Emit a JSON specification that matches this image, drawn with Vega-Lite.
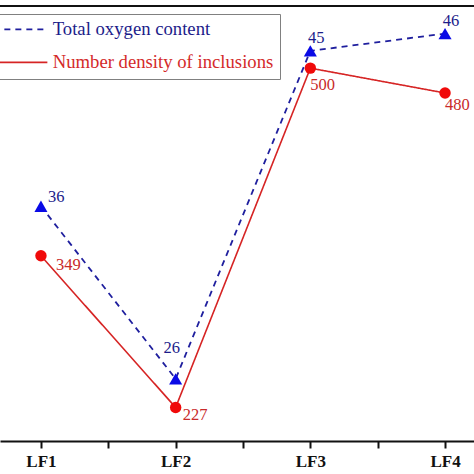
{
  "$schema": "https://vega.github.io/schema/vega-lite/v6.json",
  "width": 474,
  "height": 435,
  "autosize": "none",
  "padding": {"left": 0, "top": 6, "right": 0, "bottom": 33},
  "background": "white",
  "config": {
    "view": {"stroke": null},
    "font": "'Liberation Serif', 'Times New Roman', Times, serif"
  },
  "datasets": {
    "series": [
      {"stage": "LF1", "idx": 1, "series": "Total oxygen content", "value": 36},
      {"stage": "LF2", "idx": 2, "series": "Total oxygen content", "value": 26},
      {"stage": "LF3", "idx": 3, "series": "Total oxygen content", "value": 45},
      {"stage": "LF4", "idx": 4, "series": "Total oxygen content", "value": 46},
      {"stage": "LF1", "idx": 1, "series": "Number density of inclusions", "value": 349},
      {"stage": "LF2", "idx": 2, "series": "Number density of inclusions", "value": 227},
      {"stage": "LF3", "idx": 3, "series": "Number density of inclusions", "value": 500},
      {"stage": "LF4", "idx": 4, "series": "Number density of inclusions", "value": 480}
    ]
  },
  "layer": [
    {
      "data": {"values": [{"top": 550}]},
      "mark": {"type": "rule", "stroke": "#111111", "strokeWidth": 2},
      "encoding": {
        "y": {"field": "top", "type": "quantitative", "scale": {"domain": [200, 550], "nice": false, "zero": false}, "axis": null}
      }
    },
    {
      "data": {"name": "series"},
      "transform": [{"filter": "datum.series == 'Total oxygen content'"}],
      "mark": {"type": "line", "strokeWidth": 1.8},
      "encoding": {
        "x": {"field": "idx", "type": "quantitative", "scale": {"domain": [0.696, 4.215], "nice": false, "zero": false},
          "axis": {"values": [1, 1.5, 2, 2.5, 3, 3.5, 4], "labelExpr": "datum.value % 1 == 0 ? 'LF' + datum.value : ''", "title": null, "grid": false, "domainColor": "#111111", "domainWidth": 2, "tickColor": "#111111", "tickWidth": 2, "tickSize": 7, "labelFont": "'Liberation Serif', 'Times New Roman', Times, serif", "labelFontWeight": "bold", "labelFontSize": 17, "labelColor": "#111111", "labelPadding": 5}},
        "y": {"field": "value", "type": "quantitative", "scale": {"domain": [22.4, 47.6], "nice": false, "zero": false}, "axis": null},
        "color": {"field": "series", "type": "nominal", "scale": {"domain": ["Total oxygen content", "Number density of inclusions"], "range": ["#1f1f9e", "#d62424"]},
          "legend": {"title": null, "orient": "none", "legendX": -9, "legendY": 8, "direction": "vertical", "symbolType": "M-5,0H5.86", "symbolSize": 196, "symbolStrokeWidth": 1.8, "labelFont": "'Liberation Serif', 'Times New Roman', Times, serif", "labelFontSize": 18.7, "labelOffset": 37, "labelLimit": 400, "rowPadding": 13, "padding": 6, "strokeColor": "#808080", "fillColor": "white",
            "encode": {"labels": {"update": {"fill": {"signal": "datum.label == 'Total oxygen content' ? '#1c1c8a' : '#d42a2a'"}}}}}},
        "strokeDash": {"field": "series", "type": "nominal", "scale": {"domain": ["Total oxygen content", "Number density of inclusions"], "range": [[6, 5], [1, 0]]}, "legend": {"title": null}}
      }
    },
    {
      "data": {"name": "series"},
      "transform": [{"filter": "datum.series == 'Total oxygen content'"}],
      "mark": {"type": "point", "shape": "triangle-up", "filled": true, "color": "#0a0ae6", "size": 170, "opacity": 1},
      "encoding": {
        "x": {"field": "idx", "type": "quantitative", "scale": {"domain": [0.696, 4.215], "nice": false, "zero": false}},
        "y": {"field": "value", "type": "quantitative", "scale": {"domain": [22.4, 47.6], "nice": false, "zero": false}, "axis": null}
      }
    },
    {
      "data": {"name": "series"},
      "transform": [{"filter": "datum.series == 'Total oxygen content' && datum.idx == 1"}],
      "mark": {"type": "text", "align": "left", "baseline": "middle", "dx": 7, "dy": -9, "fontSize": 16.5, "color": "#1c1c8a"},
      "encoding": {
        "x": {"field": "idx", "type": "quantitative", "scale": {"domain": [0.696, 4.215], "nice": false, "zero": false}},
        "y": {"field": "value", "type": "quantitative", "scale": {"domain": [22.4, 47.6], "nice": false, "zero": false}, "axis": null},
        "text": {"field": "value", "type": "quantitative"}
      }
    },
    {
      "data": {"name": "series"},
      "transform": [{"filter": "datum.series == 'Total oxygen content' && datum.idx == 2"}],
      "mark": {"type": "text", "align": "center", "baseline": "middle", "dx": -4, "dy": -31, "fontSize": 16.5, "color": "#1c1c8a"},
      "encoding": {
        "x": {"field": "idx", "type": "quantitative", "scale": {"domain": [0.696, 4.215], "nice": false, "zero": false}},
        "y": {"field": "value", "type": "quantitative", "scale": {"domain": [22.4, 47.6], "nice": false, "zero": false}, "axis": null},
        "text": {"field": "value", "type": "quantitative"}
      }
    },
    {
      "data": {"name": "series"},
      "transform": [{"filter": "datum.series == 'Total oxygen content' && datum.idx >= 3"}],
      "mark": {"type": "text", "align": "center", "baseline": "middle", "dx": 6, "dy": -13, "fontSize": 16.5, "color": "#1c1c8a"},
      "encoding": {
        "x": {"field": "idx", "type": "quantitative", "scale": {"domain": [0.696, 4.215], "nice": false, "zero": false}},
        "y": {"field": "value", "type": "quantitative", "scale": {"domain": [22.4, 47.6], "nice": false, "zero": false}, "axis": null},
        "text": {"field": "value", "type": "quantitative"}
      }
    },
    {
      "data": {"name": "series"},
      "transform": [{"filter": "datum.series == 'Number density of inclusions'"}],
      "mark": {"type": "line", "strokeWidth": 1.6},
      "encoding": {
        "x": {"field": "idx", "type": "quantitative", "scale": {"domain": [0.696, 4.215], "nice": false, "zero": false}},
        "y": {"field": "value", "type": "quantitative", "scale": {"domain": [200, 550], "nice": false, "zero": false}, "axis": null},
        "color": {"field": "series", "type": "nominal"},
        "strokeDash": {"field": "series", "type": "nominal"}
      }
    },
    {
      "data": {"name": "series"},
      "transform": [{"filter": "datum.series == 'Number density of inclusions'"}],
      "mark": {"type": "point", "shape": "circle", "filled": true, "color": "#f00a0a", "size": 130, "opacity": 1},
      "encoding": {
        "x": {"field": "idx", "type": "quantitative", "scale": {"domain": [0.696, 4.215], "nice": false, "zero": false}},
        "y": {"field": "value", "type": "quantitative", "scale": {"domain": [200, 550], "nice": false, "zero": false}, "axis": null}
      }
    },
    {
      "data": {"name": "series"},
      "transform": [{"filter": "datum.series == 'Number density of inclusions' && datum.idx == 1"}],
      "mark": {"type": "text", "align": "left", "baseline": "middle", "dx": 15, "dy": 9, "fontSize": 16.5, "color": "#c92a2a"},
      "encoding": {
        "x": {"field": "idx", "type": "quantitative", "scale": {"domain": [0.696, 4.215], "nice": false, "zero": false}},
        "y": {"field": "value", "type": "quantitative", "scale": {"domain": [200, 550], "nice": false, "zero": false}, "axis": null},
        "text": {"field": "value", "type": "quantitative"}
      }
    },
    {
      "data": {"name": "series"},
      "transform": [{"filter": "datum.series == 'Number density of inclusions' && datum.idx == 2"}],
      "mark": {"type": "text", "align": "left", "baseline": "middle", "dx": 7, "dy": 8, "fontSize": 16.5, "color": "#c92a2a"},
      "encoding": {
        "x": {"field": "idx", "type": "quantitative", "scale": {"domain": [0.696, 4.215], "nice": false, "zero": false}},
        "y": {"field": "value", "type": "quantitative", "scale": {"domain": [200, 550], "nice": false, "zero": false}, "axis": null},
        "text": {"field": "value", "type": "quantitative"}
      }
    },
    {
      "data": {"name": "series"},
      "transform": [{"filter": "datum.series == 'Number density of inclusions' && datum.idx == 3"}],
      "mark": {"type": "text", "align": "left", "baseline": "middle", "dx": 0, "dy": 17, "fontSize": 16.5, "color": "#c92a2a"},
      "encoding": {
        "x": {"field": "idx", "type": "quantitative", "scale": {"domain": [0.696, 4.215], "nice": false, "zero": false}},
        "y": {"field": "value", "type": "quantitative", "scale": {"domain": [200, 550], "nice": false, "zero": false}, "axis": null},
        "text": {"field": "value", "type": "quantitative"}
      }
    },
    {
      "data": {"name": "series"},
      "transform": [{"filter": "datum.series == 'Number density of inclusions' && datum.idx == 4"}],
      "mark": {"type": "text", "align": "left", "baseline": "middle", "dx": 0, "dy": 12, "fontSize": 16.5, "color": "#c92a2a"},
      "encoding": {
        "x": {"field": "idx", "type": "quantitative", "scale": {"domain": [0.696, 4.215], "nice": false, "zero": false}},
        "y": {"field": "value", "type": "quantitative", "scale": {"domain": [200, 550], "nice": false, "zero": false}, "axis": null},
        "text": {"field": "value", "type": "quantitative"}
      }
    }
  ],
  "resolve": {"scale": {"y": "independent"}}
}
